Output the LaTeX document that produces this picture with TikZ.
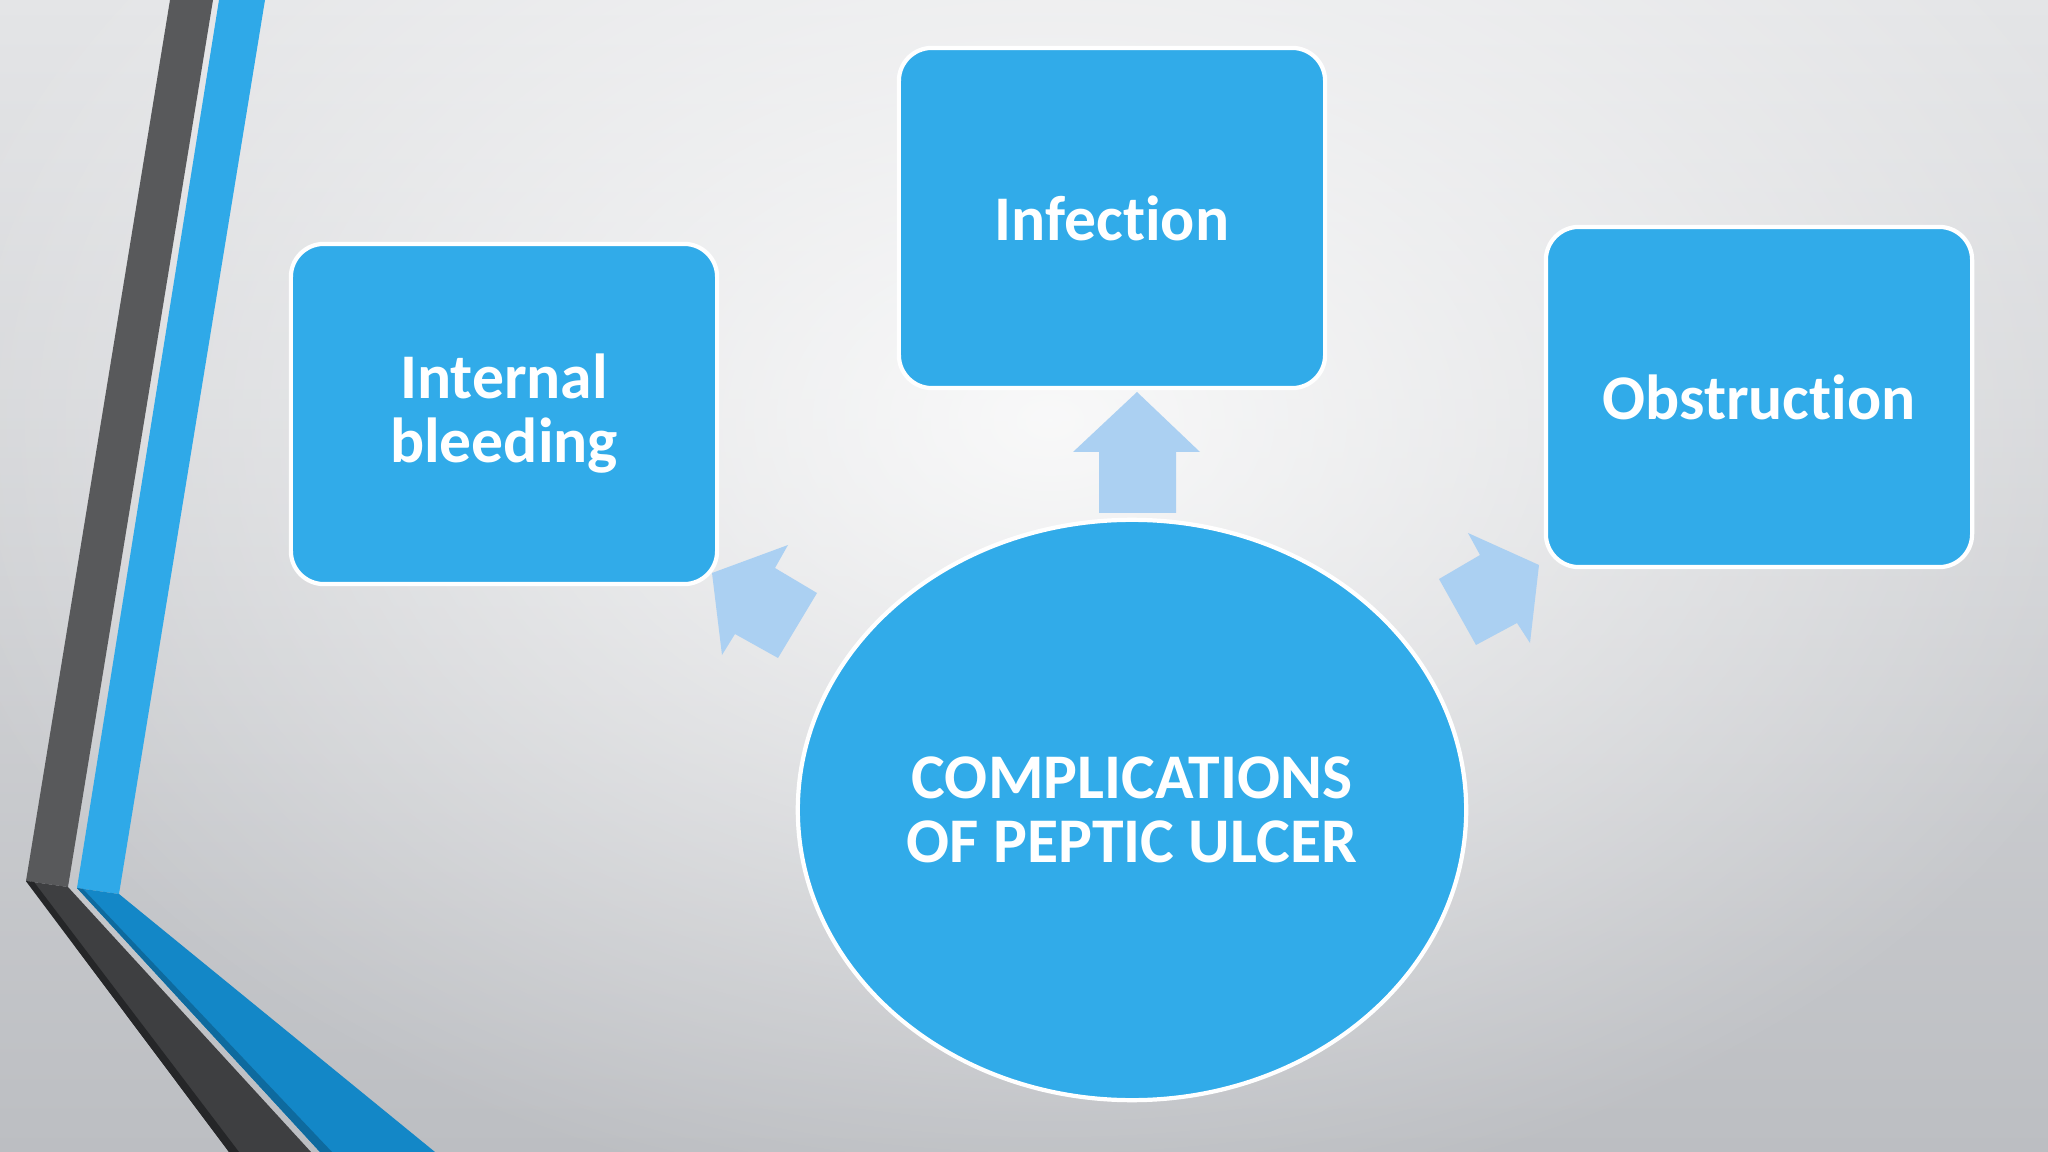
\documentclass[tikz,border=0pt]{standalone}
\usepackage{fontspec}
\setmainfont{Carlito}[Ligatures=NoCommon]
\usetikzlibrary{fadings,shapes.geometric}
\tikzfading[name=glowfade, inner color=transparent!0, outer color=transparent!100]
\definecolor{boxblue}{HTML}{31ABE9}
\definecolor{arrowblue}{HTML}{ABD0F2}
\definecolor{bardark}{HTML}{58595B}
\definecolor{bardarklow}{HTML}{3E3F41}
\definecolor{bardarkedge}{HTML}{252628}
\definecolor{barblue}{HTML}{2FA9E8}
\definecolor{barbluelow}{HTML}{1387C7}
\definecolor{barblueedge}{HTML}{0E6A9E}
\definecolor{bgtop}{HTML}{E4E5E7}
\definecolor{bgbot}{HTML}{BCBEC2}
\begin{document}
\begin{tikzpicture}[x=0.01cm,y=-0.01cm,
  txt/.style={text=white, align=center, font=\bfseries\fontsize{18.1}{18.2}\selectfont},
  box/.style={txt, rectangle, rounded corners=0.33cm, fill=boxblue, draw=white, line width=1.2pt,
    minimum width=4.26cm, minimum height=3.40cm, inner sep=0pt},
  hub/.style={txt, ellipse, fill=boxblue, draw=white, line width=1.2pt,
    minimum width=6.68cm, minimum height=5.80cm, inner sep=0pt},
  barrow/.style={fill=arrowblue}]
\useasboundingbox (0,0) rectangle (2048,1152);
% background
\shade[top color=bgtop, bottom color=bgbot] (0,0) rectangle (2048,1152);
\fill[white, opacity=0.85, path fading=glowfade] (1050,420) ellipse (1150 and 800);
% decorative bars
\fill[bardark] (170,0) -- (213,0) -- (68,887) -- (26,881) -- cycle;
\fill[bardarklow] (26,881) -- (68,887) -- (311,1152) -- (229,1152) -- cycle;
\fill[bardarkedge] (26,881) -- (34,882) -- (239,1152) -- (229,1152) -- cycle;
\fill[barblue] (219,0) -- (265,0) -- (119,894) -- (77,888) -- cycle;
\fill[barbluelow] (77,888) -- (119,894) -- (435,1152) -- (320,1152) -- cycle;
\fill[barblueedge] (77,888) -- (83,889) -- (332,1152) -- (320,1152) -- cycle;
% nodes
\node[box] (ib) at (504,414) {Internal\\bleeding};
\node[box] (inf) at (1112,218) {Infection};
\node[box] (obs) at (1759,397) {Obstruction};
\node[hub] (hub) at (1132,810) {COMPLICATIONS\\OF PEPTIC ULCER};
% block arrows
\fill[barrow] (1137,392) -- (1200,452) -- (1176,452) -- (1176,513) -- (1099,513) -- (1099,452) -- (1073,452) -- cycle;
\fill[barrow] (712,573) -- (788,545) -- (775,568) -- (817,593) -- (778,658) -- (735,634) -- (722,655) -- cycle;
\fill[barrow] (1539,565) -- (1530,643) -- (1517,623) -- (1476,645) -- (1439,579) -- (1480,555) -- (1468,533) -- cycle;
\end{tikzpicture}
\end{document}
